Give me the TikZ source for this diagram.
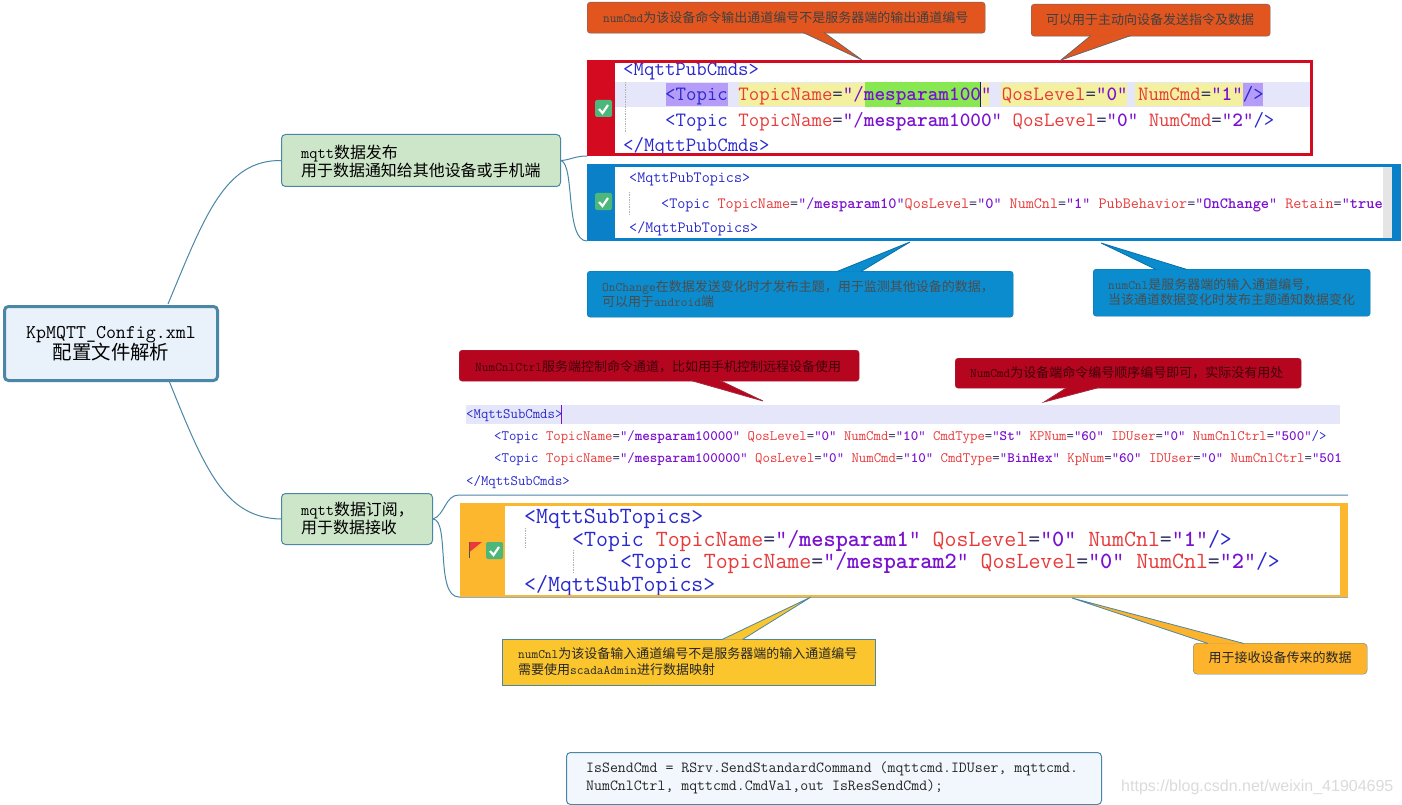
\documentclass[tikz,border=0pt]{standalone}
\usepackage{fontspec}
\newfontfamily\cjk{Noto Sans CJK SC}
\newfontfamily\wmfont{Liberation Sans}
\newcommand\zh[1]{{\cjk #1}}
\newcommand\fsz[2]{\fontsize{#1}{#2}\selectfont\ttfamily}
\definecolor{linec}{HTML}{4A87A6}
\definecolor{tagc}{HTML}{2A2ACC}
\definecolor{attc}{HTML}{E83A3A}
\definecolor{valc}{HTML}{7A10D0}
\definecolor{eqc}{HTML}{303060}
\definecolor{hlY}{HTML}{F3F0A0}
\definecolor{hlG}{HTML}{88E850}
\definecolor{hlP}{HTML}{B49CF8}
\definecolor{hlL}{HTML}{E6E6FA}
\definecolor{redc}{HTML}{D40A20}
\definecolor{bluec}{HTML}{0A80C8}
\definecolor{orgc}{HTML}{FDB72E}
\definecolor{cOr}{HTML}{E2551F}
\definecolor{cBl}{HTML}{0A8CCF}
\definecolor{cRd}{HTML}{B5051F}
\definecolor{cYl}{HTML}{FBC52E}
\definecolor{cOy}{HTML}{FDB32C}
\definecolor{chk}{HTML}{4DB67A}
\definecolor{rootf}{HTML}{E9F2FB}
\definecolor{subf}{HTML}{CDE5C8}
\definecolor{notef}{HTML}{F1F7FC}
\newcommand\tg[1]{\textcolor{tagc}{#1}}
\newcommand\at[1]{\textcolor{attc}{#1}}
\newcommand\eq{\textcolor{eqc}{=}}
\newcommand\vl[1]{\textcolor{valc}{\bfseries #1}}
\newcommand\vq[1]{\textcolor{valc}{#1}}
% pointer of a callout: fill, border, base1, tip, base2
\newcommand\ptr[5]{\fill[#1] #3 -- #4 -- #5 -- cycle; \draw[#2,line width=.8pt] #3 -- #4 -- #5;}
% check icon: x, y
\newcommand\chkicon[2]{\fill[chk,rounded corners=1.5pt] (#1,#2) rectangle ++(17,17);
  \draw[white,line width=2.2pt] (#1+4,#2+9) -- (#1+7.5,#2+13) -- (#1+13,#2+5);}
\tikzset{
  x=1pt,y=-1pt,
  conn/.style={draw=linec,line width=1pt},
  topic/.style={rectangle,rounded corners=4pt,draw=linec,line width=1pt,fill=#1,inner sep=0pt,anchor=north west},
  callout/.style={rectangle,anchor=north west,inner sep=0pt,fill=#1},
  frame/.style={rectangle,anchor=north west,inner sep=0pt,line width=3pt},
  code/.style={anchor=base west,inner sep=0pt,font=\fsz{#1}{#1}},
  capt/.style={anchor=west,inner sep=0pt,align=left},
  guide/.style={draw=gray!60,densely dotted,line width=.7pt},
}
\begin{document}
\begin{tikzpicture}
\useasboundingbox (0,0) rectangle (1402,805);
\fill[white] (0,0) rectangle (1402,805);

% topic nodes
\node[topic=rootf,line width=3pt,minimum width=213pt,minimum height=74pt,align=center,font=\fsz{19.4}{21}] (root) at (3,305) {KpMQTT\_Config.xml\\\zh{配置文件解析}};
\node[topic=subf,minimum width=279pt,minimum height=52pt] (nodeA) at (281,134) {};
\node[capt,font=\fsz{15.95}{18}] (nodeAt) at (301,161) {mqtt\zh{数据发布}\\\zh{用于数据通知给其他设备或手机端}};
\node[topic=subf,minimum width=151pt,minimum height=51pt] (nodeB) at (281,493) {};
\node[capt,font=\fsz{15.95}{18}] (nodeBt) at (301,518) {mqtt\zh{数据订阅，}\\\zh{用于数据接收}};

% frames (background)
\node[frame,fill=white,minimum width=723pt,minimum height=93pt] (pubcmd) at (587,60) {};
\node[frame,fill=white,minimum width=811pt,minimum height=74pt] (pubtop) at (587,164) {};
\node[frame,fill=white,minimum width=885pt,minimum height=91pt] (subtop) at (460,503) {};
\coordinate (pubcmdW) at (587,156);
\coordinate (subtopN) at (459,495);
\coordinate (subtopNE) at (1348,495);
\coordinate (subtopS) at (459,597);
\coordinate (subtopSE) at (1348,597);
\coordinate (rootN) at (168,304);
\coordinate (rootS) at (169.5,382);

% connectors
\draw[conn] (rootN) .. controls (205,215) and (225,160) .. (nodeA.west);
\draw[conn] (rootS) .. controls (205,470) and (225,518) .. (nodeB.west);
\draw[conn] (nodeA.east) .. controls (570,160) and (575,156) .. (pubcmdW);
\draw[conn] (nodeA.east) .. controls (575,165) and (565,241) .. (pubtop.south west);
\draw[conn] (nodeB.east) .. controls (445,515) and (445,495) .. (subtopN) -- (subtopNE);
\draw[conn] (nodeB.east) .. controls (450,520) and (435,597) .. (subtopS) -- (subtopSE);

% bands
\fill[redc] (587,60) rectangle (615,156);
\fill[bluec] (587,164) rectangle (615,241);
\fill[gray!20] (1383,166) rectangle (1392,239);
\fill[bluec] (1392,164) rectangle (1401,241);
\fill[orgc] (460,503) rectangle (505,597);
\fill[orgc] (1340,503) rectangle (1348,597);

% highlights PubCmds
\fill[hlL] (615,82) rectangle (1310,107);
\fill[hlP] (666,83) rectangle (728,106);
\fill[hlY] (739,83) rectangle (989,106);
\fill[hlG] (865,82) rectangle (980,107);
\fill[hlY] (1001,83) rectangle (1127,106);
\fill[hlY] (1135,83) rectangle (1243,106);
\fill[hlP] (1243,83) rectangle (1263,106);
\draw[tagc!60!black,line width=.8pt] (980,82) -- (980,107);
\fill[hlL] (466,405) rectangle (1340,424);
\draw[valc,line width=.8pt] (561,405) -- (561,424);

% guides
\draw[guide] (625,82) -- (625,132);
\draw[guide] (629,192) -- (629,215);
\draw[guide] (525,528) -- (525,548);
\draw[guide] (573,550) -- (573,573);

% PubCmds text
\node[code=20.3] (c1) at (623,76) {\tg{<MqttPubCmds>}};
\node[code=20.3] (c2) at (665,101) {\tg{<Topic} \at{TopicName}\eq\vq{"/}\vl{mesparam100}\vq{"} \at{QosLevel}\eq\vq{"}\vl{0}\vq{"} \at{NumCmd}\eq\vq{"}\vl{1}\vq{"}\tg{/>}};
\node[code=20.3] (c3) at (665,127) {\tg{<Topic} \at{TopicName}\eq\vq{"/}\vl{mesparam1000}\vq{"} \at{QosLevel}\eq\vq{"}\vl{0}\vq{"} \at{NumCmd}\eq\vq{"}\vl{2}\vq{"}\tg{/>}};
\node[code=20.3] (c4) at (623,152) {\tg{</MqttPubCmds>}};
% PubTopics text
\node[code=15.66] (t1) at (629,183) {\tg{<MqttPubTopics>}};
\node[code=15.66] (t2) at (661,208) {\tg{<Topic} \at{TopicName}\eq\vq{"/}\vl{mesparam10}\vq{"}\at{QosLevel}\eq\vq{"}\vl{0}\vq{"} \at{NumCnl}\eq\vq{"}\vl{1}\vq{"} \at{PubBehavior}\eq\vq{"}\vl{OnChange}\vq{"} \at{Retain}\eq\vq{"}\vl{true}};
\node[code=15.66] (t3) at (629,233) {\tg{</MqttPubTopics>}};
% SubCmds text
\node[code=14.37] (s1) at (466,418) {\tg{<MqttSubCmds>}};
\node[code=14.37] (s2) at (494,440) {\tg{<Topic} \at{TopicName}\eq\vq{"/}\vl{mesparam10000}\vq{"} \at{QosLevel}\eq\vq{"}\vl{0}\vq{"} \at{NumCmd}\eq\vq{"}\vl{10}\vq{"} \at{CmdType}\eq\vq{"}\vl{St}\vq{"} \at{KPNum}\eq\vq{"}\vl{60}\vq{"} \at{IDUser}\eq\vq{"}\vl{0}\vq{"} \at{NumCnlCtrl}\eq\vq{"}\vl{500}\vq{"}\tg{/>}};
\node[code=14.37] (s3) at (494,462) {\tg{<Topic} \at{TopicName}\eq\vq{"/}\vl{mesparam100000}\vq{"} \at{QosLevel}\eq\vq{"}\vl{0}\vq{"} \at{NumCmd}\eq\vq{"}\vl{10}\vq{"} \at{CmdType}\eq\vq{"}\vl{BinHex}\vq{"} \at{KpNum}\eq\vq{"}\vl{60}\vq{"} \at{IDUser}\eq\vq{"}\vl{0}\vq{"} \at{NumCnlCtrl}\eq\vq{"}\vl{501}};
\node[code=14.37] (s4) at (466,485) {\tg{</MqttSubCmds>}};
% SubTopics text
\node[code=23.2] (u1) at (524,523) {\tg{<MqttSubTopics>}};
\node[code=23.2] (u2) at (572,546) {\tg{<Topic} \at{TopicName}\eq\vq{"/}\vl{mesparam1}\vq{"} \at{QosLevel}\eq\vq{"}\vl{0}\vq{"} \at{NumCnl}\eq\vq{"}\vl{1}\vq{"}\tg{/>}};
\node[code=23.2] (u3) at (620,568) {\tg{<Topic} \at{TopicName}\eq\vq{"/}\vl{mesparam2}\vq{"} \at{QosLevel}\eq\vq{"}\vl{0}\vq{"} \at{NumCnl}\eq\vq{"}\vl{2}\vq{"}\tg{/>}};
\node[code=23.2] (u4) at (524,591) {\tg{</MqttSubTopics>}};

% frame borders on top
\node[frame,draw=redc,minimum width=723pt,minimum height=93pt] (pubcmdb) at (587,60) {};
\node[frame,draw=bluec,minimum width=811pt,minimum height=74pt] (pubtopb) at (587,164) {};
\draw[orgc,line width=3pt] (460,504.5) -- (1348,504.5);
\draw[orgc,line width=2pt] (460,596) -- (1348,596);

% icons
\chkicon{595}{100}
\chkicon{595}{193}
\chkicon{486}{542}
\draw[black!70,line width=.8pt] (469.5,542) -- (469.5,558);
\fill[attc] (469.5,542) -- (482,542) -- (469.5,552) -- cycle;

% callouts
\node[callout=cOr,draw=gray!80!black,rounded corners=3pt,minimum width=398pt,minimum height=31pt] (k1) at (587,2) {};
\ptr{cOr}{gray!80!black}{(803,32.5)}{(862,60)}{(824,32.5)}
\node[capt,font=\fsz{13}{15},text=black!75] (k1t) at (603,18) {numCmd\zh{为该设备命令输出通道编号不是服务器端的输出通道编号}};

\node[callout=cOr,draw=gray!80!black,rounded corners=3pt,minimum width=239pt,minimum height=32pt] (k2) at (1031,4) {};
\ptr{cOr}{gray!80!black}{(1091,35.5)}{(1061,60)}{(1131,35.5)}
\node[capt,font=\fsz{13}{15},text=black!75] (k2t) at (1046,19.5) {\zh{可以用于主动向设备发送指令及数据}};

\node[callout=cBl,draw=cBl!80!black,rounded corners=3pt,minimum width=426pt,minimum height=46pt] (k3) at (587,271) {};
\ptr{cBl}{cBl!80!black}{(837,271.5)}{(910,242)}{(861,271.5)}
\node[capt,font=\fsz{13}{15},text=black!70] (k3t) at (602,294) {OnChange\zh{在数据发送变化时才发布主题，用于监测其他设备的数据，}\\\zh{可以用于}android\zh{端}};

\node[callout=cBl,draw=cBl!80!black,rounded corners=3pt,minimum width=277pt,minimum height=47pt] (k4) at (1093,269) {};
\ptr{cBl}{cBl!80!black}{(1156,269.5)}{(1101,243)}{(1187,269.5)}
\node[capt,font=\fsz{13}{14.5},text=black!70] (k4t) at (1108,292) {numCnl\zh{是服务器端的输入通道编号，}\\\zh{当该通道数据变化时发布主题通知数据变化}};

\node[callout=cRd,draw=cRd!70!gray,rounded corners=3pt,minimum width=400pt,minimum height=31pt] (k5) at (459,350) {};
\ptr{cRd}{cRd!70!gray}{(691,380.5)}{(763,401)}{(720,380.5)}
\node[capt,font=\fsz{13}{15},text=black!65!cRd] (k5t) at (475,367) {NumCnlCtrl\zh{服务端控制命令通道，比如用手机控制远程设备使用}};

\node[callout=cRd,draw=cRd!70!gray,rounded corners=3pt,minimum width=346pt,minimum height=30pt] (k6) at (955,358) {};
\ptr{cRd}{cRd!70!gray}{(1067,387.5)}{(1044,402)}{(1099,387.5)}
\node[capt,font=\fsz{13}{15},text=black!65!cRd] (k6t) at (970,373) {NumCmd\zh{为设备端命令编号顺序编号即可，实际没有用处}};

\node[callout=cYl,draw=linec,minimum width=373pt,minimum height=46pt] (k7) at (502,639) {};
\ptr{cYl}{linec}{(722,639.5)}{(811,597)}{(742.5,639.5)}
\node[capt,font=\fsz{13}{16},text=black!85] (k7t) at (518,662) {numCnl\zh{为该设备输入通道编号不是服务器端的输入通道编号}\\\zh{需要使用}scadaAdmin\zh{进行数据映射}};

\node[callout=cOy,draw=linec,rounded corners=4pt,minimum width=174pt,minimum height=31pt] (k8) at (1193,643) {};
\ptr{cOy}{linec}{(1208,643.5)}{(1072,598)}{(1244,643.5)}
\node[anchor=center,inner sep=0pt,font=\fsz{13}{15},text=black!85] (k8t) at (1280,658) {\zh{用于接收设备传来的数据}};

% bottom box
\node[rectangle,anchor=north west,inner sep=0pt,draw=linec,line width=1pt,rounded corners=4pt,fill=notef,minimum width=535pt,minimum height=52pt] (note) at (566,752) {};
\node[capt,font=\fsz{15.4}{18},text=black!85] (notet) at (586,778) {IsSendCmd = RSrv.SendStandardCommand (mqttcmd.IDUser, mqttcmd.\\NumCnlCtrl, mqttcmd.CmdVal,out IsResSendCmd);};

% watermark
\node[anchor=west,inner sep=0pt,font=\wmfont\fontsize{16}{18}\selectfont,text=black!14] (wm) at (1121,787) {https://blog.csdn.net/weixin\_41904695};
\end{tikzpicture}
\end{document}
